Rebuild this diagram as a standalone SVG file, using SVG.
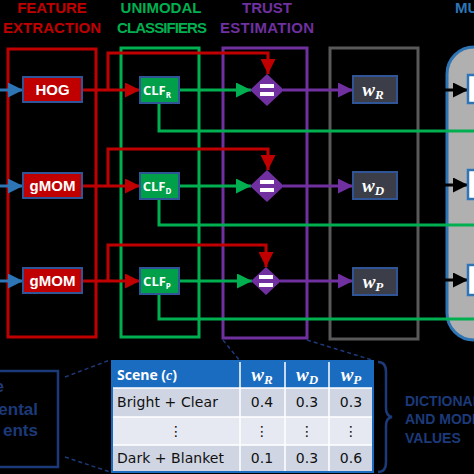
<svg xmlns="http://www.w3.org/2000/svg" width="474" height="474" viewBox="0 0 474 474">
<style>
.title{font-family:"Liberation Sans",Arial,sans-serif;font-weight:bold;font-size:15px;text-anchor:middle}
.boxt{font-family:"Liberation Sans",Arial,sans-serif;font-weight:bold;font-size:15px;fill:#fff;text-anchor:middle}
.clft{font-family:"Open Sans","Liberation Sans",sans-serif;font-weight:bold;font-size:13px;fill:#fff;text-anchor:middle}
.wt{font-family:"Liberation Serif","DejaVu Serif",serif;font-weight:bold;font-style:italic;font-size:19px;fill:#fff;text-anchor:middle}
.tt{font-family:"DejaVu Sans","Liberation Sans",sans-serif;font-size:14px;fill:#111}
.tc{text-anchor:middle}
.dk{font-family:"Liberation Sans",Arial,sans-serif;font-weight:bold;font-size:14px;fill:#1c3a7a}
.dkl{font-family:"Liberation Sans",Arial,sans-serif;font-weight:bold;font-size:17px;fill:#1c3a7a;text-anchor:end}
.red{stroke:#c00000;stroke-width:3;fill:none}
.grn{stroke:#00b050;stroke-width:3;fill:none}
.pur{stroke:#7030a0;stroke-width:3;fill:none}
.dash{stroke:#1c3a7a;stroke-width:1.5;stroke-dasharray:4 3;fill:none}
</style>
<defs>
<marker id="aRed" viewBox="0 0 10 10" refX="10" refY="5" markerWidth="5" markerHeight="5" orient="auto" markerUnits="strokeWidth"><path d="M0,0 L10,5 L0,10 z" fill="#c00000"/></marker>
<marker id="aGrn" viewBox="0 0 10 10" refX="10" refY="5" markerWidth="5" markerHeight="5" orient="auto" markerUnits="strokeWidth"><path d="M0,0 L10,5 L0,10 z" fill="#00b050"/></marker>
<marker id="aPur" viewBox="0 0 10 10" refX="10" refY="5" markerWidth="5" markerHeight="5" orient="auto" markerUnits="strokeWidth"><path d="M0,0 L10,5 L0,10 z" fill="#7030a0"/></marker>
<marker id="aBlu" viewBox="0 0 10 10" refX="10" refY="5" markerWidth="5" markerHeight="5" orient="auto" markerUnits="strokeWidth"><path d="M0,0 L10,5 L0,10 z" fill="#2e75b6"/></marker>
<marker id="aBlk" viewBox="0 0 10 10" refX="10" refY="5" markerWidth="5" markerHeight="5" orient="auto" markerUnits="strokeWidth"><path d="M0,0 L10,5 L0,10 z" fill="#000"/></marker>
</defs>
<rect width="474" height="474" fill="#000"/>

<g id="titles">
<text class="title" x="52" y="13" fill="#c00000">FEATURE</text>
<text class="title" x="52" y="33" fill="#c00000" textLength="98">EXTRACTION</text>
<text class="title" x="161" y="13" fill="#00b050">UNIMODAL</text>
<text class="title" x="162" y="33" fill="#00b050" textLength="90">CLASSIFIERS</text>
<text class="title" x="267" y="13" fill="#7030a0">TRUST</text>
<text class="title" x="267" y="33" fill="#7030a0" textLength="94">ESTIMATION</text>
<text class="title" x="455" y="13" fill="#2e75b6" style="text-anchor:start">MU</text>
</g>

<g id="groups">
<rect x="8" y="49" width="88" height="288" fill="none" stroke="#c00000" stroke-width="3"/>
<rect x="121" y="48" width="78" height="289" fill="none" stroke="#00b050" stroke-width="3"/>
<rect x="223" y="48" width="84" height="290" fill="none" stroke="#7030a0" stroke-width="3"/>
<rect x="330" y="48" width="88" height="291" fill="none" stroke="#595959" stroke-width="3"/>
<rect id="fusion" x="447" y="47" width="60" height="293" rx="27" fill="#b0b0b0" stroke="#2e75b6" stroke-width="3"/>
</g>

<g id="connectors">
<line x1="0" y1="90" x2="23" y2="90" stroke="#2e75b6" stroke-width="3" marker-end="url(#aBlu)"/>
<line x1="0" y1="186" x2="23" y2="186" stroke="#2e75b6" stroke-width="3" marker-end="url(#aBlu)"/>
<line x1="0" y1="281" x2="23" y2="281" stroke="#2e75b6" stroke-width="3" marker-end="url(#aBlu)"/>

<line class="red" x1="82" y1="90" x2="140" y2="90" marker-end="url(#aRed)"/>
<line class="red" x1="82" y1="186" x2="140" y2="186" marker-end="url(#aRed)"/>
<line class="red" x1="82" y1="281" x2="140" y2="281" marker-end="url(#aRed)"/>
<path class="red" d="M108,90 V53 H268 V74" marker-end="url(#aRed)"/>
<path class="red" d="M108,186 V149 H268 V170" marker-end="url(#aRed)"/>
<path class="red" d="M108,281 V245 H266 V267" marker-end="url(#aRed)"/>

<line class="grn" x1="179" y1="90" x2="251" y2="90" marker-end="url(#aGrn)"/>
<line class="grn" x1="179" y1="186" x2="251" y2="186" marker-end="url(#aGrn)"/>
<line class="grn" x1="179" y1="281" x2="252" y2="281" marker-end="url(#aGrn)"/>
<path class="grn" d="M159,103 V131 H474"/>
<path class="grn" d="M159,199 V225 H474"/>
<path class="grn" d="M159,293 V319 H474"/>

<line class="pur" x1="283" y1="90" x2="353" y2="90" marker-end="url(#aPur)"/>
<line class="pur" x1="283" y1="186" x2="353" y2="186" marker-end="url(#aPur)"/>
<line class="pur" x1="280" y1="281" x2="353" y2="281" marker-end="url(#aPur)"/>

<line x1="445" y1="90" x2="468" y2="90" stroke="#000" stroke-width="3" marker-end="url(#aBlk)"/>
<line x1="445" y1="185" x2="468" y2="185" stroke="#000" stroke-width="3" marker-end="url(#aBlk)"/>
<line x1="445" y1="280" x2="468" y2="280" stroke="#000" stroke-width="3" marker-end="url(#aBlk)"/>

<line class="dash" x1="65" y1="377" x2="110" y2="360"/>
<line class="dash" x1="65" y1="457" x2="110" y2="472"/>
<line class="dash" x1="223" y1="340" x2="240" y2="361"/>
<line class="dash" x1="307" y1="340" x2="372" y2="360"/>
</g>

<g id="hog"><rect x="23" y="77" width="59" height="25" fill="#c00000" stroke="#2f5597" stroke-width="2"/><text class="boxt" x="52.5" y="95">HOG</text></g>
<g id="gmom1"><rect x="23" y="173" width="59" height="25" fill="#c00000" stroke="#2f5597" stroke-width="2"/><text class="boxt" x="52.5" y="191">gMOM</text></g>
<g id="gmom2"><rect x="23" y="268" width="59" height="25" fill="#c00000" stroke="#2f5597" stroke-width="2"/><text class="boxt" x="52.5" y="286">gMOM</text></g>

<g id="clfR"><rect x="140" y="77" width="39" height="26" fill="#00a04a" stroke="#2f5597" stroke-width="2"/><text class="clft" x="157" y="95">CLF<tspan font-size="8" dy="3">R</tspan></text></g>
<g id="clfD"><rect x="140" y="173" width="39" height="26" fill="#00a04a" stroke="#2f5597" stroke-width="2"/><text class="clft" x="157" y="191">CLF<tspan font-size="8" dy="3">D</tspan></text></g>
<g id="clfP"><rect x="140" y="268" width="39" height="26" fill="#00a04a" stroke="#2f5597" stroke-width="2"/><text class="clft" x="157" y="286">CLF<tspan font-size="8" dy="3">P</tspan></text></g>

<g id="eqR"><path d="M267,74 L284,90 L267,106 L250,90 z" fill="#7030a0"/><rect x="260" y="84" width="14" height="4" fill="#fff"/><rect x="260" y="92" width="14" height="4" fill="#fff"/></g>
<g id="eqD"><path d="M267,170 L284,186 L267,202 L250,186 z" fill="#7030a0"/><rect x="260" y="180" width="14" height="4" fill="#fff"/><rect x="260" y="188" width="14" height="4" fill="#fff"/></g>
<g id="eqP"><path d="M266,267 L281,281 L266,295 L251,281 z" fill="#7030a0"/><rect x="259" y="275" width="14" height="4" fill="#fff"/><rect x="259" y="283" width="14" height="4" fill="#fff"/></g>

<g id="wR"><rect x="353" y="76" width="44" height="27" fill="#3b3e48" stroke="#2f5597" stroke-width="2"/><text class="wt" x="373" y="96">w<tspan font-size="13" dy="3">R</tspan></text></g>
<g id="wD"><rect x="353" y="172" width="44" height="27" fill="#3b3e48" stroke="#2f5597" stroke-width="2"/><text class="wt" x="373" y="192">w<tspan font-size="13" dy="3">D</tspan></text></g>
<g id="wP"><rect x="353" y="268" width="44" height="27" fill="#3b3e48" stroke="#2f5597" stroke-width="2"/><text class="wt" x="373" y="288">w<tspan font-size="13" dy="3">P</tspan></text></g>

<g id="fusionR"><rect x="468" y="75" width="12" height="28" fill="#fff" stroke="#2e75b6" stroke-width="2.5"/></g>
<g id="fusionD"><rect x="468" y="170" width="12" height="29" fill="#fff" stroke="#2e75b6" stroke-width="2.5"/></g>
<g id="fusionP"><rect x="468" y="265" width="12" height="30" fill="#fff" stroke="#2e75b6" stroke-width="2.5"/></g>

<g id="envbox">
<rect x="-3" y="371" width="61" height="96" fill="none" stroke="#1c3a7a" stroke-width="2.5"/>
<text class="dkl" x="4" y="392">e</text>
<text class="dkl" x="38" y="415">ental</text>
<text class="dkl" x="38" y="436">ents</text>
</g>

<g id="table">
<rect x="112" y="361" width="261" height="27" fill="#1a6cc0"/>
<rect x="112" y="388" width="261" height="29" fill="#cfd5e2"/>
<rect x="112" y="417" width="261" height="28" fill="#e6e9f1"/>
<rect x="112" y="445" width="261" height="27" fill="#cfd5e2"/>
<g stroke="#fff" stroke-width="1.5">
<line x1="112" y1="388" x2="373" y2="388"/>
<line x1="112" y1="417" x2="373" y2="417"/>
<line x1="112" y1="445" x2="373" y2="445"/>
<line x1="240" y1="361" x2="240" y2="472"/>
<line x1="285" y1="361" x2="285" y2="472"/>
<line x1="329" y1="361" x2="329" y2="472"/>
</g>
<rect x="112" y="361" width="261" height="111" fill="none" stroke="#1a6cc0" stroke-width="2"/>
<text x="117" y="380" font-family="Open Sans,Liberation Sans,sans-serif" font-weight="bold" font-size="14" fill="#fff">Scene (<tspan font-family="Liberation Serif,serif" font-style="italic">c</tspan>)</text>
<text class="wt tc" x="262" y="381">w<tspan font-size="13" dy="3">R</tspan></text>
<text class="wt tc" x="307" y="381">w<tspan font-size="13" dy="3">D</tspan></text>
<text class="wt tc" x="351" y="381">w<tspan font-size="13" dy="3">P</tspan></text>
<text class="tt" x="117" y="407" textLength="101">Bright + Clear</text>
<text class="tt tc" x="262" y="407">0.4</text>
<text class="tt tc" x="307" y="407">0.3</text>
<text class="tt tc" x="351" y="407">0.3</text>
<text class="tt tc" x="176" y="436">⋮</text>
<text class="tt tc" x="262" y="436">⋮</text>
<text class="tt tc" x="307" y="436">⋮</text>
<text class="tt tc" x="351" y="436">⋮</text>
<text class="tt" x="117" y="463" textLength="107">Dark + Blanket</text>
<text class="tt tc" x="262" y="463">0.1</text>
<text class="tt tc" x="307" y="463">0.3</text>
<text class="tt tc" x="351" y="463">0.6</text>
</g>

<g id="brace">
<path d="M378,362 Q386,362 386,372 V408 Q386,416 392,417 Q386,418 386,426 V462 Q386,472 378,472" fill="none" stroke="#1c3a7a" stroke-width="2.5"/>
<text class="dk" x="405" y="406">DICTIONAR</text>
<text class="dk" x="405" y="424">AND MODE</text>
<text class="dk" x="405" y="443">VALUES</text>
</g>
</svg>
